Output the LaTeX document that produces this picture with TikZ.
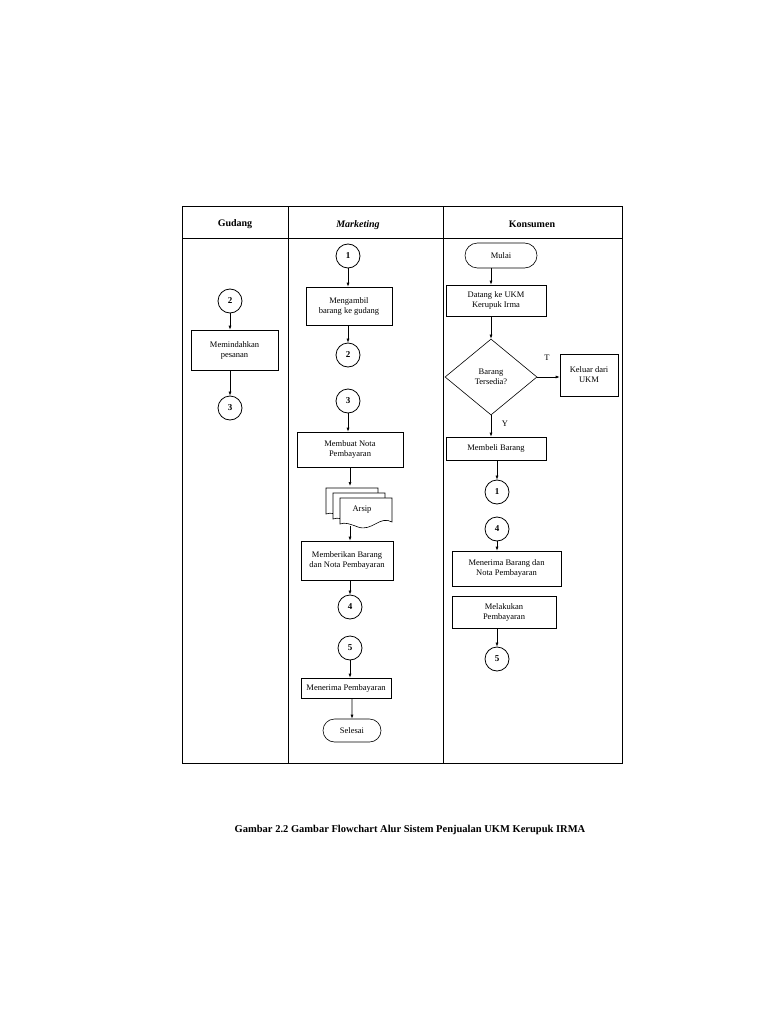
\documentclass[tikz,border=0pt]{standalone}
\usepackage{fontspec}
\setmainfont{Liberation Serif}
\usetikzlibrary{shapes.geometric,shapes.misc,arrows.meta}
\begin{document}
\begin{tikzpicture}[x=1pt,y=-1pt,
  every node/.style={font=\fontsize{8.5}{10}\selectfont,align=center,inner sep=1pt},
  proc/.style={draw,line width=0.6pt,rectangle,inner sep=2pt},
  conn/.style={draw,circle,line width=0.8pt,minimum size=24pt,font=\fontsize{9}{10}\selectfont\bfseries},
  term/.style={draw,rounded rectangle,line width=0.6pt},
  arr/.style={-{Latex[length=4pt,width=3pt]},line width=0.6pt},
  hdr/.style={font=\fontsize{10}{12}\selectfont\bfseries}]
\useasboundingbox (0,0) rectangle (768,1024);
% frame
\draw[line width=1pt] (182,207) rectangle (622,763);
\draw[line width=1pt] (182,238) -- (622,238);
\draw[line width=1pt] (288,207) -- (288,763);
\draw[line width=1pt] (443,207) -- (443,763);
\node[hdr] (h1) at (235,224) {Gudang};
\node[hdr,font=\fontsize{10}{12}\selectfont\bfseries\itshape] (h2) at (358,225) {Marketing};
\node[hdr] (h3) at (532,224) {Konsumen};
% Gudang
\node[conn] (g2) at (230,301) {2};
\node[proc,minimum width=87pt,minimum height=40pt] (gp) at (234.5,350) {Memindahkan\\pesanan};
\node[conn] (g3) at (230,408) {3};
\draw[arr] (g2) -- (g2|-gp.north);
\draw[arr] (g3|-gp.south) -- (g3);
% Marketing
\node[conn] (m1) at (348,256) {1};
\node[proc,minimum width=86pt,minimum height=38pt] (mp1) at (349,306) {Mengambil\\barang ke gudang};
\node[conn] (m2) at (348,355) {2};
\node[conn] (m3) at (348,401) {3};
\node[proc,minimum width=106pt,minimum height=35pt] (mp2) at (350,449.5) {Membuat Nota\\Pembayaran};
% Arsip multi-document
\foreach \dx/\dy in {-14/-10,-7/-5,0/0}{
  \draw[fill=white,line width=0.6pt] (340+\dx,498+\dy) -- (392+\dx,498+\dy) -- (392+\dx,522+\dy)
    .. controls (380+\dx,515+\dy) and (372+\dx,532+\dy) .. (358+\dx,527+\dy)
    .. controls (350+\dx,524+\dy) and (345+\dx,522+\dy) .. (340+\dx,524+\dy) -- cycle;}
\node (ars) at (362,510) {Arsip};
\coordinate (arsT) at (350,486);
\coordinate (arsB) at (350,526);
\node[proc,minimum width=92pt,minimum height=39pt] (mp3) at (347,560.5) {Memberikan Barang\\dan Nota Pembayaran};
\node[conn] (m4) at (350,607) {4};
\node[conn] (m5) at (350,648) {5};
\node[proc,minimum width=90pt,minimum height=20pt] (mp4) at (346,688) {Menerima Pembayaran};
\node[term,minimum width=60pt,minimum height=23pt] (sel) at (352,730.5) {Selesai};
\draw[arr] (m1) -- (m1|-mp1.north);
\draw[arr] (m2|-mp1.south) -- (m2);
\draw[arr] (m3) -- (m3|-mp2.north);
\draw[arr] (arsT|-mp2.south) -- (arsT);
\draw[arr] (arsB) -- (arsB|-mp3.north);
\draw[arr] (m4|-mp3.south) -- (m4);
\draw[arr] (m5) -- (m5|-mp4.north);
\draw[arr] (sel|-mp4.south) -- (sel);
% Konsumen
\node[term,minimum width=74pt,minimum height=25pt] (mul) at (501,255.5) {Mulai};
\node[proc,minimum width=100pt,minimum height=31pt] (kp1) at (496,300.5) {Datang ke UKM\\Kerupuk Irma};
\node[diamond,draw,line width=0.6pt,minimum width=92pt,minimum height=76pt,inner sep=0pt] (dec) at (491,377) {Barang\\Tersedia?};
\node[proc,minimum width=58pt,minimum height=42pt] (kel) at (589,375) {Keluar dari\\UKM};
\node (tl) at (547,358) {T};
\node (yl) at (505,424) {Y};
\node[proc,minimum width=100pt,minimum height=23pt] (kp2) at (496,448.5) {Membeli Barang};
\node[conn] (k1) at (497,492) {1};
\node[conn] (k4) at (497,529) {4};
\node[proc,minimum width=109pt,minimum height=35pt] (kp3) at (506.5,568.5) {Menerima Barang dan\\Nota Pembayaran};
\node[proc,minimum width=104pt,minimum height=32pt] (kp4) at (504,612) {Melakukan\\Pembayaran};
\node[conn] (k5) at (497,659) {5};
\draw[arr] (mul.south-|dec) -- (dec|-kp1.north);
\draw[arr] (dec|-kp1.south) -- (dec);
\draw[arr] (dec.east) -- (kel.west|-dec.east);
\draw[arr] (dec.south) -- (dec|-kp2.north);
\draw[arr] (k1|-kp2.south) -- (k1);
\draw[arr] (k4) -- (k4|-kp3.north);
\draw[arr] (k5|-kp4.south) -- (k5);
% caption
\node[font=\fontsize{10.5}{12}\selectfont\bfseries] (cap) at (410,830) {Gambar 2.2 Gambar Flowchart Alur Sistem Penjualan UKM Kerupuk IRMA};
\end{tikzpicture}
\end{document}
